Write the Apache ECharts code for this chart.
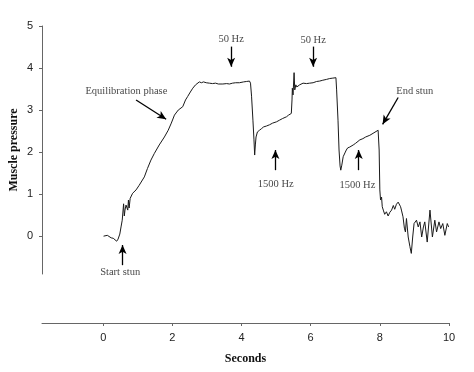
<!DOCTYPE html>
<html>
<head>
<meta charset="utf-8">
<script src="https://cdn.jsdelivr.net/npm/echarts@6/dist/echarts.min.js"></script>
<style>html,body{margin:0;padding:0;background:#fff}#c{width:474px;height:372px}</style>
</head>
<body>
<div id="c"></div>
<script>
// Time (seconds)
var timeSec = [0.01,0.06,0.12,0.17,0.23,0.29,0.33,0.39,0.43,0.48,0.52,0.55,0.59,0.61,0.63,0.66,0.69,0.71,0.73,0.75,0.78,0.85,0.95,1.04,1.19,1.28,1.38,1.48,1.62,1.77,1.88,1.97,2.06,2.17,2.30,2.38,2.44,2.52,2.59,2.67,2.72,2.78,2.84,2.90,2.98,
3.07,3.16,3.25,3.33,3.46,3.57,3.65,3.74,3.83,3.94,4.06,4.14,4.23,4.26,4.29,4.33,4.36,4.38,4.40,4.42,4.46,4.52,4.58,4.64,4.72,4.81,4.90,5.01,5.10,5.19,5.30,5.36,5.44,5.46,5.47,5.49,5.52,5.54,5.57,5.60,5.68,5.78,5.88,5.97,6.07,6.17,6.26,6.35,6.46,6.55,6.64,6.73,6.75,6.79,6.82,6.85,6.87,6.90,6.94,6.99,7.03,7.07,7.13,7.23,7.30,7.42,7.51,7.59,7.71,7.83,7.95,7.98,8.00,8.02,8.05,8.07,8.10,8.14,8.19,8.24,8.29,8.34,8.39,8.43,8.48,8.53,8.56,8.60,8.63,8.67,8.71,8.74,8.77,8.82,8.87,8.91,8.95,8.99,9.06,9.11,9.16,9.21,9.26,9.30,9.37,9.45,9.52,9.59,9.64,9.71,9.76,9.82,9.88,9.95,9.99];
// Muscle pressure
var pressure = [0.00,0.01,0.02,-0.01,-0.04,-0.05,-0.08,-0.12,-0.07,0.05,0.24,0.38,0.77,0.48,0.62,0.74,0.77,0.62,0.86,0.67,0.90,1.02,1.10,1.21,1.41,1.61,1.81,1.97,2.17,2.36,2.52,2.69,2.88,3.00,3.08,3.24,3.32,3.43,3.52,3.60,3.64,3.67,3.65,3.67,3.65,
3.64,3.63,3.64,3.62,3.62,3.63,3.62,3.64,3.65,3.65,3.67,3.68,3.69,3.64,3.33,2.76,2.29,1.93,2.17,2.36,2.48,2.52,2.56,2.60,2.62,2.65,2.69,2.72,2.76,2.80,2.84,2.88,2.92,3.24,3.52,3.36,3.89,3.48,3.60,3.55,3.60,3.64,3.63,3.64,3.65,3.68,3.69,3.71,3.73,3.75,3.76,3.77,3.48,2.76,2.05,1.67,1.57,1.69,1.89,1.98,2.05,2.10,2.12,2.17,2.21,2.29,2.32,2.36,2.40,2.46,2.52,2.05,1.10,0.86,0.93,0.70,0.62,0.52,0.58,0.48,0.57,0.62,0.73,0.64,0.76,0.81,0.85,0.70,0.60,0.46,0.19,0.10,0.42,-0.02,-0.25,-0.41,-0.02,0.30,0.38,0.22,0.34,-0.02,0.22,0.34,-0.14,0.62,-0.02,0.38,0.10,0.34,0.18,0.30,0.02,0.30,0.22];

var xTicks = [0, 2, 4, 6, 8, 10];
var yTicks = [0, 1, 2, 3, 4, 5];

// Annotation texts and their anchor positions (data units)
var noteText = ['Equilibration phase', '50 Hz', '50 Hz', '1500 Hz', '1500 Hz', 'End stun', 'Start stun'];
var noteX = [0.67, 3.70, 6.07, 4.99, 7.35, 9.01, 0.49];
var noteY = [3.45, 4.69, 4.67, 1.23, 1.21, 3.45, -0.85];

// Arrows: start -> end (data units)
var arrowX0 = [0.95, 3.70, 6.07, 4.98, 7.39, 8.53, 0.56];
var arrowY0 = [3.24, 4.51, 4.51, 1.57, 1.57, 3.30, -0.69];
var arrowX1 = [1.82, 3.70, 6.07, 4.98, 7.39, 8.08, 0.56];
var arrowY1 = [2.78, 4.03, 4.03, 2.05, 2.05, 2.66, -0.21];

var lineData = timeSec.map(function (t, i) { return [t, pressure[i]]; });
var noteData = noteText.map(function (s, i) { return { value: [noteX[i], noteY[i]], name: s }; });
var arrowData = arrowX0.map(function (x, i) {
  return [{ coord: [x, arrowY0[i]] }, { coord: [arrowX1[i], arrowY1[i]] }];
});

var chart = echarts.init(document.getElementById('c'), null, { renderer: 'canvas' });
chart.setOption({
  animation: false,
  backgroundColor: '#ffffff',
  grid: { left: 42, right: 25, top: 26, bottom: 98, containLabel: false, outerBoundsMode: 'none' },
  xAxis: {
    type: 'value', min: -1.77, max: 10, offset: 49, position: 'bottom',
    name: 'Seconds', nameLocation: 'middle', nameGap: 30, nameMoveOverlap: false,
    nameTextStyle: { fontFamily: 'Liberation Serif', fontWeight: 'bold', fontSize: 12, color: '#111' },
    axisLine: { show: true, onZero: false, lineStyle: { color: '#666', width: 1 } },
    axisTick: { show: true, customValues: xTicks, length: 3, lineStyle: { color: '#666' } },
    axisLabel: { customValues: xTicks, margin: 9, fontFamily: 'Liberation Sans', fontSize: 11, color: '#222' },
    splitLine: { show: false }
  },
  yAxis: {
    type: 'value', min: -0.9, max: 5, position: 'left',
    name: 'Muscle pressure', nameLocation: 'middle', nameGap: 22, nameMoveOverlap: false,
    nameTextStyle: { fontFamily: 'Liberation Serif', fontWeight: 'bold', fontSize: 12, color: '#111' },
    axisLine: { show: true, onZero: false, lineStyle: { color: '#666', width: 1 } },
    axisTick: { show: true, customValues: yTicks, length: 3, lineStyle: { color: '#666' } },
    axisLabel: { customValues: yTicks, margin: 9, fontFamily: 'Liberation Sans', fontSize: 11, color: '#222' },
    splitLine: { show: false }
  },
  series: [
    {
      type: 'line', data: lineData, showSymbol: false, symbol: 'none',
      lineStyle: { color: '#1a1a1a', width: 1 },
      silent: true,
      markLine: {
        silent: true, symbol: ['none', 'arrow'], symbolSize: [6, 9], animation: false,
        label: { show: false },
        lineStyle: { color: '#000', width: 1.3, type: 'solid' },
        itemStyle: { color: '#000' },
        data: arrowData
      }
    },
    {
      type: 'scatter', data: noteData, symbolSize: 0, silent: true, clip: false,
      label: {
        show: true, position: 'inside', formatter: function (p) { return p.name; },
        fontFamily: 'Liberation Serif', fontSize: 10.5, color: '#111'
      }
    }
  ]
});
</script>
</body>
</html>
